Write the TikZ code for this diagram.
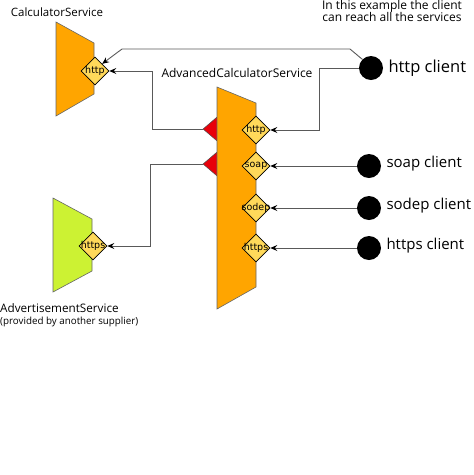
\documentclass[tikz,border=0pt]{standalone}
\usepackage{fontspec}
\setmainfont{Open Sans}
\newfontfamily\portfont{DejaVu Sans}
\usetikzlibrary{shapes.geometric,arrows.meta}
\definecolor{svcorange}{HTML}{FFA500}
\definecolor{svclime}{HTML}{CCF233}
\definecolor{portyellow}{HTML}{FFD95A}
\definecolor{reqred}{HTML}{E8000A}
\begin{document}
\begin{tikzpicture}[x=1pt,y=-1pt]
\tikzset{service/.style = {draw=gray!80!black,line width=0.6pt}}
\tikzset{port/.style = {shape=diamond,draw,fill=portyellow,inner sep=0pt,minimum width=28pt,minimum height=28pt,line width=0.6pt}}
\tikzset{portname/.style = {font=\portfont\fontsize{9.5}{10}\selectfont,inner sep=0pt}}
\tikzset{req/.style = {shape=diamond,draw=black!70,fill=reqred,inner sep=0pt,minimum width=28pt,minimum height=24pt,line width=0.5pt}}
\tikzset{client/.style = {shape=circle,fill=black,minimum size=24pt,inner sep=0pt}}
\tikzset{link/.style = {draw=black!65,line width=0.9pt,-{Stealth[length=7pt,width=6pt,inset=2.5pt,black]}}}
\useasboundingbox (0,0) rectangle (474,475);
% required ports (behind the service)
\node[req] (red1) at (217,129) {};
\node[req] (red2) at (217,164) {};
% services
\draw[service,fill=svcorange] (56,22) -- (94,43) -- (94,94) -- (56,116) -- cycle;
\draw[service,fill=svcorange] (217,87) -- (256,103) -- (256,287) -- (217,309) -- cycle;
\draw[service,fill=svclime] (53,198) -- (92,219) -- (92,271) -- (53,292) -- cycle;
\node[font=\fontsize{11.5}{13}\selectfont] at (57,12) {CalculatorService};
\node[font=\fontsize{12}{13}\selectfont] at (237,73) {AdvancedCalculatorService};
\node[font=\fontsize{11.7}{13}\selectfont,anchor=west,inner sep=0pt] at (0,308) {AdvertisementService};
\node[font=\fontsize{9.8}{11}\selectfont,anchor=west,inner sep=0pt] at (0,322) {(provided by another supplier)};
% input ports
\node[port,label={[portname]center:http}] (calchttp) at (95,71) {};
\node[port,label={[portname]center:http}] (advhttp) at (256,130) {};
\node[port,label={[portname]center:soap}] (advsoap) at (256,166) {};
\node[port,label={[portname]center:sodep}] (advsodep) at (256,208) {};
\node[port,label={[portname]center:https}] (advhttps) at (256,248) {};
\node[port,label={[portname]center:https}] (adhttps) at (93,246) {};
% clients on the right
\node[client] (hc) at (371,68) {};
\node[client] (sc) at (369,166) {};
\node[client] (sdc) at (369,208) {};
\node[client] (hsc) at (369,248) {};
\node[font=\fontsize{16.5}{18}\selectfont,anchor=west] at (385,68) {http client};
\node[font=\fontsize{15}{17}\selectfont,anchor=west] at (383,164) {soap client};
\node[font=\fontsize{15}{17}\selectfont,anchor=west] at (383,206) {sodep client};
\node[font=\fontsize{15}{17}\selectfont,anchor=west] at (383,246) {https client};
\node[font=\fontsize{12}{12.5}\selectfont,align=center] at (392,11) {In this example the client\\can reach all the services};
% connections
\draw[link] (hc.135) -- (350,49) -- (122,49) -- (calchttp.north east);
\draw[link] (hc.west) -- (319,68) |- (advhttp.east);
\draw[link] (sc.west) -- (advsoap.east);
\draw[link] (sdc.west) -- (advsodep.east);
\draw[link] (hsc.west) -- (advhttps.east);
\draw[link] (red1.west) -- (152,129) |- (calchttp.east);
\draw[link] (red2.west) -- (150,164) |- (adhttps.east);
\end{tikzpicture}
\end{document}
